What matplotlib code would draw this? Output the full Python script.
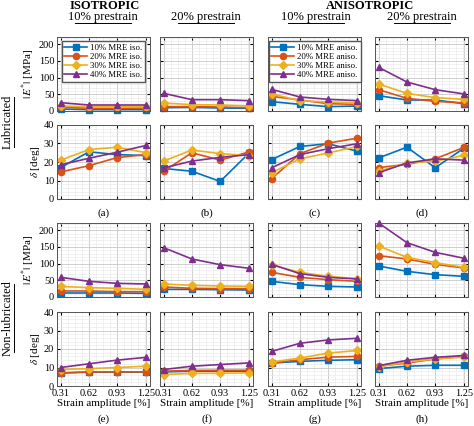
import matplotlib
matplotlib.use("Agg")
import matplotlib.pyplot as plt
from matplotlib.ticker import AutoMinorLocator
from matplotlib.lines import Line2D

plt.rcParams['font.family'] = ['Liberation Serif', 'DejaVu Serif']
plt.rcParams['mathtext.fontset'] = 'stix'

strain = [0.31, 0.62, 0.93, 1.25]
series = ['10%', '20%', '30%', '40%']
colors = ['#0072BD', '#D95319', '#EDB120', '#7E2F8E']
markers = ['s', 'o', 'D', '^']

# panel -> [10%,20%,30%,40%] MRE
E_lub = {
    'a': [[6, 4, 4, 4], [12, 8, 8, 9], [15, 13, 13, 13], [25, 18, 18, 18]],
    'b': [[10, 11, 9, 8], [13, 13, 12, 10], [24, 19, 18, 15], [53, 34, 34, 31]],
    'c': [[28, 20, 13, 15], [44, 33, 22, 20], [51, 31, 27, 24], [65, 42, 35, 31]],
    'd': [[46, 33, 33, 22], [64, 38, 29, 24], [81, 53, 40, 35], [131, 87, 64, 51]],
}
D_lub = {
    'a': [[17, 25.5, 24, 23.5], [14.6, 18, 22.4, 24], [21, 26.7, 28, 25], [18.5, 22, 25.3, 29]],
    'b': [[16.5, 15, 9.5, 25], [15, 25, 21, 25.5], [20.5, 26.5, 24.5, 23.5], [16.8, 20.5, 22.5, 24]],
    'c': [[21.3, 28.4, 29.9, 25.8], [11, 24.5, 30.2, 32.9], [14.2, 21.7, 24.9, 28.4], [16.9, 24, 27.2, 29.9]],
    'd': [[22.2, 28, 16.9, 27.6], [17, 18.7, 21.7, 28], [15, 19.5, 20.4, 23.6], [14.2, 19.5, 21.7, 21]],
}
E_non = {
    'e': [[12, 12, 12, 11], [18, 18, 16, 16], [32, 28, 26, 23], [59, 47, 41, 39]],
    'f': [[23, 23, 22, 21], [30, 26, 25, 25], [39, 35, 33, 32], [148, 114, 97, 86]],
    'g': [[47, 37, 32, 30], [74, 59, 52, 47], [96, 74, 62, 55], [98, 70, 59, 54]],
    'h': [[93, 77, 67, 62], [124, 114, 98, 87], [153, 119, 103, 89], [222, 163, 134, 116]],
}
D_non = {
    'e': [[7, 7.5, 7.5, 7.5], [7.1, 7.6, 7.6, 7.6], [8.9, 9.4, 10, 10.7], [10, 12, 14, 15.5]],
    'f': [[7.6, 8, 8, 8], [8, 8.4, 8.5, 8.5], [6.2, 6.8, 6.9, 7.1], [8.9, 10.7, 11.6, 12.5]],
    'g': [[12.4, 13.3, 13.9, 14.2], [12.4, 14.2, 15.6, 16], [13, 15.1, 17.8, 19.2], [18.7, 23.1, 24.9, 25.8]],
    'h': [[9.4, 10.7, 11.2, 11.2], [10.7, 12.4, 14.6, 16], [10.3, 13, 14.6, 15.6], [11, 13.9, 15.5, 16.5]],
}

W, H = 474, 426
fig = plt.figure(figsize=(W/100, H/100), dpi=100)
lefts = [57, 160, 268, 375]
tops = [37, 125, 223, 312]
aw, ah = 93, 74

def make_ax(col, row):
    return fig.add_axes([lefts[col]/W, 1-(tops[row]+ah)/H, aw/W, ah/H])

rows = [(E_lub, 'E', 'abcd'), (D_lub, 'D', 'abcd'), (E_non, 'E', 'efgh'), (D_non, 'D', 'efgh')]
for r, (data, kind, keys) in enumerate(rows):
    for c, k in enumerate(keys):
        ax = make_ax(c, r)
        for i in range(4):
            lab = f"{series[i]} MRE {'iso.' if c < 2 else 'aniso.'}"
            ax.plot(strain, data[k][i], color=colors[i], marker=markers[i],
                    ms=4.5 if markers[i] != 'D' else 3.8, lw=1.2, label=lab, clip_on=False)
        ax.set_xlim(0.27, 1.29)
        ax.set_xticks(strain)
        if kind == 'E':
            ax.set_ylim(0, 222); ax.set_yticks([0, 50, 100, 150, 200])
        else:
            ax.set_ylim(0, 40); ax.set_yticks([0, 10, 20, 30, 40])
        ax.xaxis.set_minor_locator(AutoMinorLocator(4))
        ax.yaxis.set_minor_locator(AutoMinorLocator(5))
        ax.grid(True, which='major', color='#c8c8c8', lw=0.6)
        ax.grid(True, which='minor', color='#e6e6e6', lw=0.4)
        ax.set_axisbelow(True)
        ax.tick_params(which='both', direction='in', labelsize=7.5, length=2.5, top=True, right=True, pad=2)
        ax.tick_params(which='minor', length=0)
        for s in ax.spines.values():
            s.set_color('#555555'); s.set_linewidth(0.7)
        if c == 0:
            ax.set_ylabel(r'$|\,E^{*}|$ [MPa]' if kind == 'E' else r'$\delta$ [deg]', fontsize=8, labelpad=1)
        else:
            ax.set_yticklabels([])
        if r == 3:
            ax.set_xticklabels(['0.31', '0.62', '0.93', '1.25'])
            ax.set_xlabel('Strain amplitude [%]', fontsize=8, labelpad=1)
        else:
            ax.set_xticklabels([])
        if r == 0 and c in (0, 2):
            ax.legend(loc='upper center', fontsize=6.3, handlelength=2.6, borderpad=0.3,
                      labelspacing=0.1, handletextpad=0.4, fancybox=False,
                      edgecolor='#555555', framealpha=1)

def ftxt(x, y, s, **kw):
    fig.text(x/W, 1-y/H, s, ha='center', va='center', **kw)

def hline(x0, x1, y):
    fig.add_artist(Line2D([x0/W, x1/W], [1-y/H, 1-y/H], color='k', lw=0.7))

def vline(x, y0, y1):
    fig.add_artist(Line2D([x/W, x/W], [1-y0/H, 1-y1/H], color='k', lw=0.7))

ftxt(105, 6, 'ISOTROPIC', fontsize=9, fontweight='bold')
ftxt(370, 6, 'ANISOTROPIC', fontsize=9, fontweight='bold')
for x, s in [(103, '10% prestrain'), (206, '20% prestrain'), (316, '10% prestrain'), (422, '20% prestrain')]:
    ftxt(x, 17, s, fontsize=9)
    hline(x-28, x+28, 23)
for i, l in enumerate('abcd'):
    ftxt(lefts[i]+aw/2, 213, f'({l})', fontsize=8)
for i, l in enumerate('efgh'):
    ftxt(lefts[i]+aw/2, 419, f'({l})', fontsize=8)
ftxt(8, 122, 'Lubricated', fontsize=9, rotation=90)
vline(14, 97, 147)
ftxt(8, 318, 'Non-lubricated', fontsize=9, rotation=90)
vline(14, 284, 352)

fig.savefig('out.png', dpi=100)
